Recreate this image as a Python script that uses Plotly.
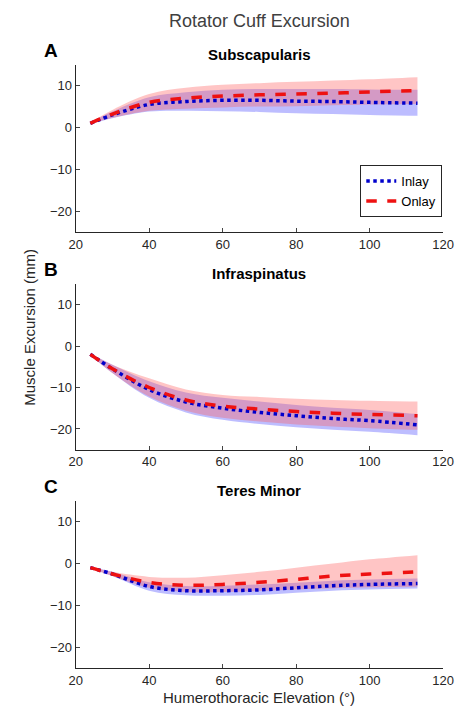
import plotly.graph_objects as go

x = [24, 30, 40, 50, 60, 70, 80, 90, 100, 113]
sub_in = [1, 3, 5.5, 6.2, 6.5, 6.5, 6.3, 6.2, 6.0, 5.8]
sub_in_lo = [0.8, 2.2, 3.8, 4.0, 3.9, 3.7, 3.4, 3.2, 3.0, 2.8]
sub_in_hi = [1.2, 3.8, 7.2, 8.4, 9.0, 9.2, 9.2, 9.2, 9.1, 9.0]
sub_on = [1, 3.2, 6.0, 7.0, 7.5, 7.8, 8.0, 8.2, 8.5, 8.8]
sub_on_lo = [0.8, 2.3, 4.0, 4.5, 4.8, 5.0, 5.1, 5.3, 5.5, 5.6]
sub_on_hi = [1.2, 4.2, 8.0, 9.5, 10.2, 10.6, 10.9, 11.2, 11.5, 12.0]

inf_in = [-2, -5.5, -10.5, -13.5, -15.0, -16.0, -16.8, -17.5, -18.0, -19.0]
inf_in_lo = [-2.2, -6.5, -12.5, -16.0, -17.8, -18.8, -19.6, -20.2, -20.7, -21.5]
inf_in_hi = [-1.8, -4.5, -8.5, -11.2, -12.5, -13.4, -14.2, -14.9, -15.4, -16.4]
inf_on = [-2, -5.5, -10.0, -13.0, -14.5, -15.2, -15.8, -16.2, -16.5, -16.8]
inf_on_lo = [-2.2, -6.5, -12.2, -15.6, -17.3, -18.2, -18.9, -19.4, -19.8, -20.2]
inf_on_hi = [-1.8, -4.5, -7.8, -10.5, -11.8, -12.3, -12.7, -13.0, -13.2, -13.4]

ter_in = [-1, -2.5, -5.5, -6.5, -6.5, -6.3, -5.8, -5.3, -5.0, -4.8]
ter_in_lo = [-1.2, -3.0, -6.5, -7.6, -7.7, -7.5, -7.0, -6.5, -6.2, -6.0]
ter_in_hi = [-0.8, -2.0, -4.5, -5.4, -5.3, -5.0, -4.6, -4.1, -3.8, -3.6]
ter_on = [-1, -2.5, -4.5, -5.2, -5.0, -4.5, -3.8, -3.0, -2.5, -2.0]
ter_on_lo = [-1.2, -3.0, -5.8, -6.8, -6.8, -6.6, -6.2, -5.9, -5.7, -5.5]
ter_on_hi = [-0.8, -2.0, -3.2, -3.4, -2.8, -2.0, -1.0, 0.0, 1.0, 2.0]

panels = [
    ("Subscapularis", "A", sub_in, sub_in_lo, sub_in_hi, sub_on, sub_on_lo, sub_on_hi, [0.684, 0.920]),
    ("Infraspinatus", "B", inf_in, inf_in_lo, inf_in_hi, inf_on, inf_on_lo, inf_on_hi, [0.377, 0.611]),
    ("Teres Minor", "C", ter_in, ter_in_lo, ter_in_hi, ter_on, ter_on_lo, ter_on_hi, [0.069, 0.305]),
]

fig = go.Figure()
ann = []
for i, (name, letter, yi, yil, yih, yo, yol, yoh, dom) in enumerate(panels):
    k = "" if i == 0 else str(i + 1)
    xa, ya = "x" + k, "y" + k
    for lo, hi, col in [(yil, yih, "rgba(90,90,255,0.4)"), (yol, yoh, "rgba(255,90,90,0.35)")]:
        fig.add_trace(go.Scatter(x=x, y=hi, mode="lines", line=dict(width=0, shape="spline"),
                                 showlegend=False, hoverinfo="skip", xaxis=xa, yaxis=ya))
        fig.add_trace(go.Scatter(x=x, y=lo, mode="lines", line=dict(width=0, shape="spline"),
                                 fill="tonexty", fillcolor=col, showlegend=False, hoverinfo="skip",
                                 xaxis=xa, yaxis=ya))
    fig.add_trace(go.Scatter(x=x, y=yi, mode="lines", name="Inlay", showlegend=(i == 0),
                             line=dict(color="#0000cc", width=3.5, dash="dot", shape="spline"),
                             xaxis=xa, yaxis=ya))
    fig.add_trace(go.Scatter(x=x, y=yo, mode="lines", name="Onlay", showlegend=(i == 0),
                             line=dict(color="#ee1111", width=3.5, dash="dash", shape="spline"),
                             xaxis=xa, yaxis=ya))
    ax = dict(range=[20, 120], tickvals=[20, 40, 60, 80, 100, 120], domain=[0.133, 0.939],
              showline=True, mirror=False, linecolor="#262626", linewidth=1.2, ticks="inside", ticklen=4,
              showgrid=False, zeroline=False, anchor=ya, tickfont=dict(size=13, color="#262626"))
    ay = dict(range=[-25, 15], tickvals=[-20, -10, 0, 10], domain=dom,
              showline=True, mirror=False, linecolor="#262626", linewidth=1.2, ticks="inside", ticklen=4,
              showgrid=False, zeroline=False, anchor=xa, tickfont=dict(size=13, color="#262626"))
    fig.layout["xaxis" + k] = ax
    fig.layout["yaxis" + k] = ay
    ann.append(dict(text="<b>" + name + "</b>", x=0.536, y=dom[1], xref="paper", yref="paper",
                    xanchor="center", yanchor="bottom", showarrow=False, yshift=0,
                    font=dict(size=15, color="black")))
    ann.append(dict(text="<b>" + letter + "</b>", x=0.06, y=dom[1], xref="paper", yref="paper",
                    xanchor="left", yanchor="bottom", showarrow=False, yshift=2,
                    font=dict(size=19, color="black")))

ann.append(dict(text="Rotator Cuff Excursion", x=0.536, y=0.998, xref="paper", yref="paper",
                xanchor="center", yanchor="top", showarrow=False, font=dict(size=18, color="#404040")))
ann.append(dict(text="Humerothoracic Elevation (°)", x=0.536, y=0.027, xref="paper", yref="paper",
                xanchor="center", yanchor="middle", showarrow=False, font=dict(size=15, color="#262626")))
ann.append(dict(text="Muscle Excursion (mm)", x=0.03, y=0.55, xref="paper", yref="paper", textangle=-90,
                xanchor="center", yanchor="middle", showarrow=False, font=dict(size=15, color="#262626")))

fig.update_layout(width=474, height=709, margin=dict(l=0, r=0, t=0, b=0),
                  plot_bgcolor="white", paper_bgcolor="white",
                  font=dict(family="Liberation Sans, Arial"), annotations=ann,
                  legend=dict(x=0.937, y=0.705, xanchor="right", yanchor="bottom", traceorder="normal",
                              bordercolor="#262626", borderwidth=1, bgcolor="white",
                              font=dict(size=13, color="black")))
fig.write_html("out.html")
